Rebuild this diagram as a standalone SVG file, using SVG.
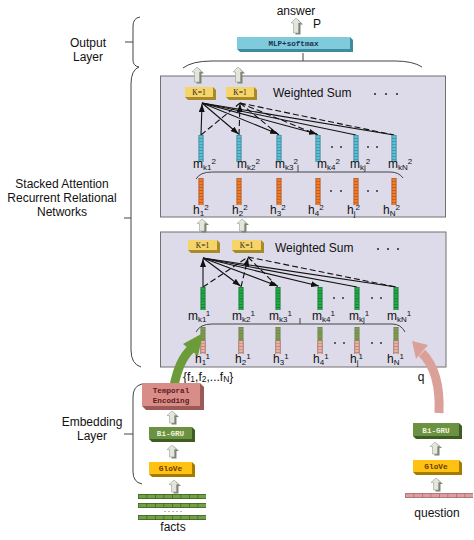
<svg xmlns="http://www.w3.org/2000/svg" xmlns:xlink="http://www.w3.org/1999/xlink" width="474" height="540" viewBox="0 0 474 540">
<style>
.t{font-family:"Liberation Sans",Arial,sans-serif;font-size:12px;fill:#111}
.lbl{font-family:"Liberation Sans",Arial,sans-serif;font-size:12px;fill:#111}
.s{font-size:8px}
.mono{font-family:"Liberation Mono","Courier New",monospace;font-weight:bold}
.panel{fill:#dddbe9;stroke:#707070;stroke-width:1}
.brace{fill:none;stroke:#444;stroke-width:1}
.sl{stroke:#111;stroke-width:1.1;fill:none}
.dl{stroke:#111;stroke-width:1.1;fill:none;stroke-dasharray:6 3}
</style>
<defs>
<marker id="ah" markerUnits="userSpaceOnUse" markerWidth="8" markerHeight="6" refX="8" refY="3" orient="auto">
<path d="M0,0 L8,3 L0,6 z" fill="#111"/>
</marker>
<g id="garrow">
<polygon points="2,1.5 7,6.5 4.5,6.5 4.5,16.5 -0.5,16.5 -0.5,6.5 -3,6.5" fill="#7c8576"/>
<polygon points="0,0 5,5 2.5,5 2.5,15 -2.5,15 -2.5,5 -5,5" fill="#e2e6dc" stroke="#8d9586" stroke-width="0.5"/>
</g>
<g id="garrowS">
<polygon points="2,1.5 7,6 4.5,6 4.5,13.5 -0.5,13.5 -0.5,6 -3,6" fill="#7c8576"/>
<polygon points="0,0 5,4.5 2.5,4.5 2.5,12 -2.5,12 -2.5,4.5 -5,4.5" fill="#e2e6dc" stroke="#8d9586" stroke-width="0.5"/>
</g>
<g id="vm2">
<rect x="-2.5" y="0" width="5" height="27" fill="#2a7b8e"/>
<line x1="0" y1="0.6" x2="0" y2="27" stroke="#5cbfd5" stroke-width="3.6" stroke-dasharray="2.4 0.6"/>
</g>
<g id="vh2">
<rect x="-2.5" y="0" width="5" height="27" fill="#a8460e"/>
<line x1="0" y1="0.6" x2="0" y2="27" stroke="#f07c2a" stroke-width="3.6" stroke-dasharray="2.4 0.6"/>
</g>
<g id="vm1">
<rect x="-2.5" y="0" width="5" height="23" fill="#0d6e26"/>
<line x1="0" y1="0.6" x2="0" y2="23" stroke="#22ad48" stroke-width="3.6" stroke-dasharray="2.3 0.6"/>
</g>
<g id="vh1">
<rect x="-2.5" y="0" width="5" height="27" fill="#6a7a50"/>
<line x1="0" y1="0.6" x2="0" y2="13.5" stroke="#7fa04a" stroke-width="3.6" stroke-dasharray="2.3 0.6"/>
<rect x="-2.5" y="13.5" width="5" height="13.5" fill="#b77a70"/>
<line x1="0" y1="14.1" x2="0" y2="27" stroke="#eab0a4" stroke-width="3.6" stroke-dasharray="2.3 0.6"/>
</g>
</defs>
<rect width="474" height="540" fill="#ffffff"/>

<!-- side labels and braces -->
<g id="label-output">
<text class="t" x="88" y="47" text-anchor="middle">Output</text>
<text class="t" x="88" y="61" text-anchor="middle">Layer</text>
</g>
<g id="label-stacked">
<text class="t" x="62" y="188" text-anchor="middle">Stacked Attention</text>
<text class="t" x="62" y="202" text-anchor="middle">Recurrent Relational</text>
<text class="t" x="62" y="216" text-anchor="middle">Networks</text>
</g>
<g id="label-embedding">
<text class="t" x="92" y="426" text-anchor="middle">Embedding</text>
<text class="t" x="92" y="440" text-anchor="middle">Layer</text>
</g>
<g id="braces">
<path class="brace" d="M140,17 Q133,18 133,26 L133,60 Q133,66 139,67 Q131,70 131,84 L131,350 Q131,364 141,367"/>
<path class="brace" d="M125,42 L133,42 M124,218 L131,218"/>
<path class="brace" d="M142,384 Q133,386 133,397 L133,472 Q133,482 142,484 M124,434 L133,434"/>
<path class="brace" d="M183,68 Q192,61 212,61 L395,61 Q413,61 422,67 M303,53 L303,61"/>
</g>

<!-- output -->
<g id="answer">
<text class="t" x="296" y="15" text-anchor="middle">answer</text>
<text class="t" x="313" y="28">P</text>
<use xlink:href="#garrow" href="#garrow" x="296" y="18"/>
</g>
<g id="mlp">
<polygon points="350,37 353,40 353,52 240,52 237,49" fill="#3f8b9c"/>
<rect x="237" y="37" width="113" height="12" fill="#7fcbdc"/>
<text class="mono" x="293.5" y="46" font-size="7.6" fill="#1d3350" text-anchor="middle">MLP+softmax</text>
</g>

<!-- upper panel -->
<g id="panel2">
<rect class="panel" x="160.5" y="76" width="285" height="141"/>
<use xlink:href="#garrow" href="#garrow" x="197" y="67"/>
<use xlink:href="#garrow" href="#garrow" x="238" y="67"/>
<polygon points="213,87 216,90 216,100 188,100 185,97" fill="#a88a28"/>
<rect x="185" y="87" width="28" height="10" fill="#f6d46a"/>
<text x="199" y="95" font-family="Liberation Serif,serif" font-size="7.5" text-anchor="middle" fill="#222">K=1</text>
<polygon points="254,87 257,90 257,100 229,100 226,97" fill="#a88a28"/>
<rect x="226" y="87" width="28" height="10" fill="#f6d46a"/>
<text x="240" y="95" font-family="Liberation Serif,serif" font-size="7.5" text-anchor="middle" fill="#222">K=1</text>
<text class="t" x="273" y="97">Weighted Sum</text>
<circle cx="375" cy="94" r="1" fill="#222"/><circle cx="386" cy="94" r="1" fill="#222"/><circle cx="397" cy="94" r="1" fill="#222"/>
</g>
<g id="connectors-2">
<line class="sl" x1="201" y1="135" x2="202" y2="104" marker-end="url(#ah)"/>
<line class="sl" x1="202" y1="103" x2="238.5" y2="134" marker-end="url(#ah)"/>
<line class="sl" x1="202" y1="103" x2="278" y2="134" marker-end="url(#ah)"/>
<line class="sl" x1="202" y1="103" x2="317" y2="134" marker-end="url(#ah)"/>
<line class="sl" x1="202" y1="103" x2="356" y2="135"/>
<line class="sl" x1="202" y1="103" x2="394" y2="135"/>
<line class="dl" x1="201" y1="135" x2="240" y2="103"/>
<line class="dl" x1="239" y1="135" x2="240" y2="104" marker-end="url(#ah)"/>
<line class="dl" x1="240" y1="103" x2="279" y2="135"/>
<line class="dl" x1="240" y1="103" x2="318" y2="135"/>
<line class="dl" x1="240" y1="103" x2="394" y2="135"/>
</g>
<g id="vectors-2">
<use xlink:href="#vm2" href="#vm2" x="201" y="135"/>
<use xlink:href="#vm2" href="#vm2" x="239" y="135"/>
<use xlink:href="#vm2" href="#vm2" x="279" y="135"/>
<use xlink:href="#vm2" href="#vm2" x="318" y="135"/>
<use xlink:href="#vm2" href="#vm2" x="356" y="135"/>
<use xlink:href="#vm2" href="#vm2" x="394" y="135"/>
<circle cx="332" cy="147" r="0.9" fill="#222"/><circle cx="341" cy="147" r="0.9" fill="#222"/>
<circle cx="368" cy="147" r="0.9" fill="#222"/><circle cx="377" cy="147" r="0.9" fill="#222"/>
<text class="lbl" y="168"><tspan x="193">m</tspan><tspan class="s" dy="2">k1</tspan><tspan class="s" dy="-6">2</tspan></text>
<text class="lbl" y="168"><tspan x="237">m</tspan><tspan class="s" dy="2">k2</tspan><tspan class="s" dy="-6">2</tspan></text>
<text class="lbl" y="168"><tspan x="275">m</tspan><tspan class="s" dy="2">k3</tspan><tspan class="s" dy="-6">2</tspan></text>
<text class="lbl" y="168"><tspan x="317">m</tspan><tspan class="s" dy="2">k4</tspan><tspan class="s" dy="-6">2</tspan></text>
<text class="lbl" y="168"><tspan x="350">m</tspan><tspan class="s" dy="2">kj</tspan><tspan class="s" dy="-6">2</tspan></text>
<text class="lbl" y="168"><tspan x="388">m</tspan><tspan class="s" dy="2">kN</tspan><tspan class="s" dy="-6">2</tspan></text>
<path class="brace" d="M196,179 Q200,172 212,172 L390,172 Q399,172 403,178 M298,165 L298,172"/>
<use xlink:href="#vh2" href="#vh2" x="201" y="178"/>
<use xlink:href="#vh2" href="#vh2" x="239" y="178"/>
<use xlink:href="#vh2" href="#vh2" x="279" y="178"/>
<use xlink:href="#vh2" href="#vh2" x="318" y="178"/>
<use xlink:href="#vh2" href="#vh2" x="356" y="178"/>
<use xlink:href="#vh2" href="#vh2" x="394" y="178"/>
<circle cx="331" cy="191" r="0.9" fill="#222"/><circle cx="341" cy="191" r="0.9" fill="#222"/>
<circle cx="368" cy="191" r="0.9" fill="#222"/><circle cx="377" cy="191" r="0.9" fill="#222"/>
<text class="lbl" y="214"><tspan x="193">h</tspan><tspan class="s" dy="2">1</tspan><tspan class="s" dy="-6">2</tspan></text>
<text class="lbl" y="214"><tspan x="232">h</tspan><tspan class="s" dy="2">2</tspan><tspan class="s" dy="-6">2</tspan></text>
<text class="lbl" y="214"><tspan x="270">h</tspan><tspan class="s" dy="2">3</tspan><tspan class="s" dy="-6">2</tspan></text>
<text class="lbl" y="214"><tspan x="308">h</tspan><tspan class="s" dy="2">4</tspan><tspan class="s" dy="-6">2</tspan></text>
<text class="lbl" y="214"><tspan x="347">h</tspan><tspan class="s" dy="2">j</tspan><tspan class="s" dy="-6">2</tspan></text>
<text class="lbl" y="214"><tspan x="383">h</tspan><tspan class="s" dy="2">N</tspan><tspan class="s" dy="-6">2</tspan></text>
</g>

<!-- lower panel -->
<g id="panel1">
<rect class="panel" x="160.5" y="232" width="285.5" height="135"/>
<use xlink:href="#garrowS" href="#garrowS" x="202" y="219"/>
<use xlink:href="#garrowS" href="#garrowS" x="242" y="219"/>
<polygon points="217,240 220,243 220,253 191,253 188,250" fill="#a88a28"/>
<rect x="188" y="240" width="29" height="10" fill="#f6d46a"/>
<text x="202.5" y="248" font-family="Liberation Serif,serif" font-size="7.5" text-anchor="middle" fill="#222">K=1</text>
<polygon points="261,240 264,243 264,253 235,253 232,250" fill="#a88a28"/>
<rect x="232" y="240" width="29" height="10" fill="#f6d46a"/>
<text x="246.5" y="248" font-family="Liberation Serif,serif" font-size="7.5" text-anchor="middle" fill="#222">K=1</text>
<text class="t" x="275" y="252">Weighted Sum</text>
<circle cx="378" cy="249" r="1" fill="#222"/><circle cx="388" cy="249" r="1" fill="#222"/><circle cx="398" cy="249" r="1" fill="#222"/>
</g>
<g id="connectors-1">
<line class="sl" x1="203" y1="287" x2="203" y2="259" marker-end="url(#ah)"/>
<line class="sl" x1="203" y1="258" x2="240.5" y2="286" marker-end="url(#ah)"/>
<line class="sl" x1="203" y1="258" x2="277.5" y2="286" marker-end="url(#ah)"/>
<line class="sl" x1="203" y1="258" x2="319" y2="286" marker-end="url(#ah)"/>
<line class="sl" x1="203" y1="258" x2="357" y2="287"/>
<line class="sl" x1="203" y1="258" x2="396" y2="287"/>
<line class="dl" x1="203" y1="287" x2="248" y2="257"/>
<line class="dl" x1="241" y1="287" x2="248" y2="258" marker-end="url(#ah)"/>
<line class="dl" x1="248" y1="257" x2="278" y2="287"/>
<line class="dl" x1="248" y1="257" x2="396" y2="287"/>
</g>
<g id="vectors-1">
<use xlink:href="#vm1" href="#vm1" x="203" y="287"/>
<use xlink:href="#vm1" href="#vm1" x="241" y="287"/>
<use xlink:href="#vm1" href="#vm1" x="278" y="287"/>
<use xlink:href="#vm1" href="#vm1" x="320" y="287"/>
<use xlink:href="#vm1" href="#vm1" x="357" y="287"/>
<use xlink:href="#vm1" href="#vm1" x="396" y="287"/>
<circle cx="334" cy="298" r="0.9" fill="#222"/><circle cx="343" cy="298" r="0.9" fill="#222"/>
<circle cx="372" cy="298" r="0.9" fill="#222"/><circle cx="381" cy="298" r="0.9" fill="#222"/>
<text class="lbl" y="320"><tspan x="188">m</tspan><tspan class="s" dy="2">k1</tspan><tspan class="s" dy="-6">1</tspan></text>
<text class="lbl" y="320"><tspan x="232">m</tspan><tspan class="s" dy="2">k2</tspan><tspan class="s" dy="-6">1</tspan></text>
<text class="lbl" y="320"><tspan x="269">m</tspan><tspan class="s" dy="2">k3</tspan><tspan class="s" dy="-6">1</tspan></text>
<text class="lbl" y="320"><tspan x="312">m</tspan><tspan class="s" dy="2">k4</tspan><tspan class="s" dy="-6">1</tspan></text>
<text class="lbl" y="320"><tspan x="349">m</tspan><tspan class="s" dy="2">kj</tspan><tspan class="s" dy="-6">1</tspan></text>
<text class="lbl" y="320"><tspan x="387">m</tspan><tspan class="s" dy="2">kN</tspan><tspan class="s" dy="-6">1</tspan></text>
<path class="brace" d="M196,332 Q200,324 212,324 L392,324 Q401,324 405,332 M300,318 L300,324"/>
<use xlink:href="#vh1" href="#vh1" x="203" y="327"/>
<use xlink:href="#vh1" href="#vh1" x="241" y="327"/>
<use xlink:href="#vh1" href="#vh1" x="278" y="327"/>
<use xlink:href="#vh1" href="#vh1" x="320" y="327"/>
<use xlink:href="#vh1" href="#vh1" x="357" y="327"/>
<use xlink:href="#vh1" href="#vh1" x="396" y="327"/>
<circle cx="335" cy="343" r="0.9" fill="#222"/><circle cx="344" cy="343" r="0.9" fill="#222"/>
<circle cx="372" cy="343" r="0.9" fill="#222"/><circle cx="381" cy="343" r="0.9" fill="#222"/>
<text class="lbl" y="363"><tspan x="195">h</tspan><tspan class="s" dy="2">1</tspan><tspan class="s" dy="-6">1</tspan></text>
<text class="lbl" y="363"><tspan x="235">h</tspan><tspan class="s" dy="2">2</tspan><tspan class="s" dy="-6">1</tspan></text>
<text class="lbl" y="363"><tspan x="273">h</tspan><tspan class="s" dy="2">3</tspan><tspan class="s" dy="-6">1</tspan></text>
<text class="lbl" y="363"><tspan x="313">h</tspan><tspan class="s" dy="2">4</tspan><tspan class="s" dy="-6">1</tspan></text>
<text class="lbl" y="363"><tspan x="350">h</tspan><tspan class="s" dy="2">j</tspan><tspan class="s" dy="-6">1</tspan></text>
<text class="lbl" y="363"><tspan x="387">h</tspan><tspan class="s" dy="2">N</tspan><tspan class="s" dy="-6">1</tspan></text>
</g>

<!-- input arrows -->
<g id="fact-arrow">
<path d="M174,386 Q179,360 191,349" fill="none" stroke="#6c9b3a" stroke-width="9"/>
<polygon points="203,333 183,344 198,356" fill="#6c9b3a"/>
</g>
<g id="question-arrow">
<path d="M439,413 C440,390 437,368 422,353" fill="none" stroke="#dba198" stroke-width="9"/>
<polygon points="412,341 428,345 416,359" fill="#dba198"/>
</g>
<text class="t" x="183" y="381" font-size="11">{f<tspan font-size="8.5" dy="1">1</tspan><tspan dy="-1">,f</tspan><tspan font-size="8.5" dy="1">2</tspan><tspan dy="-1">,...f</tspan><tspan font-size="8.5" dy="1">N</tspan><tspan dy="-1">}</tspan></text>
<text class="t" x="421" y="381" text-anchor="middle">q</text>

<!-- facts embedding -->
<g id="temporal">
<polygon points="200,383 204,387 204,410 146,410 142,406" fill="#9c5a56"/>
<rect x="142" y="383" width="58" height="23" fill="#d98d89"/>
<text class="mono" x="171" y="393" font-size="7.6" fill="#5a1a1a" text-anchor="middle">Temporal</text>
<text class="mono" x="171" y="403" font-size="7.6" fill="#5a1a1a" text-anchor="middle">Encoding</text>
</g>
<use xlink:href="#garrowS" href="#garrowS" x="172" y="411"/>
<g id="bigru-f">
<polygon points="192,427 195,430 195,442 152,442 149,439" fill="#3e5d22"/>
<rect x="149" y="427" width="43" height="12" fill="#6b9242"/>
<text class="mono" x="170.5" y="436" font-size="7.6" fill="#f2f2dc" text-anchor="middle">Bi-GRU</text>
</g>
<use xlink:href="#garrowS" href="#garrowS" x="172" y="445"/>
<g id="glove-f">
<polygon points="192,462 195,465 195,477 152,477 149,474" fill="#a67c00"/>
<rect x="149" y="462" width="43" height="12" fill="#ffc212"/>
<text class="mono" x="170.5" y="471" font-size="7.8" fill="#6a3a00" text-anchor="middle">GloVe</text>
</g>
<use xlink:href="#garrowS" href="#garrowS" x="174" y="480"/>
<g id="facts">
<rect x="138" y="494" width="68" height="5" fill="#3d6325"/>
<line x1="138.7" y1="496.5" x2="206" y2="496.5" stroke="#73a047" stroke-width="3.6" stroke-dasharray="7.8 0.7"/>
<rect x="138" y="503" width="68" height="5" fill="#3d6325"/>
<line x1="138.7" y1="505.5" x2="206" y2="505.5" stroke="#73a047" stroke-width="3.6" stroke-dasharray="7.8 0.7"/>
<circle cx="165" cy="511.5" r="0.5" fill="#444"/><circle cx="169" cy="511.5" r="0.5" fill="#444"/><circle cx="173" cy="511.5" r="0.5" fill="#444"/><circle cx="177" cy="511.5" r="0.5" fill="#444"/><circle cx="181" cy="511.5" r="0.5" fill="#444"/>
<rect x="138" y="515" width="68" height="5" fill="#3d6325"/>
<line x1="138.7" y1="517.5" x2="206" y2="517.5" stroke="#73a047" stroke-width="3.6" stroke-dasharray="7.8 0.7"/>
<text class="t" x="173" y="531" text-anchor="middle">facts</text>
</g>

<!-- question embedding -->
<g id="bigru-q">
<polygon points="459,423 462,426 462,439 416,439 413,436" fill="#3e5d22"/>
<rect x="413" y="423" width="46" height="13" fill="#6b9242"/>
<text class="mono" x="436" y="432.5" font-size="7.6" fill="#f2f2dc" text-anchor="middle">Bi-GRU</text>
</g>
<use xlink:href="#garrowS" href="#garrowS" x="435" y="442"/>
<g id="glove-q">
<polygon points="459,460 462,463 462,475 416,475 413,472" fill="#a67c00"/>
<rect x="413" y="460" width="46" height="12" fill="#ffc212"/>
<text class="mono" x="436" y="469" font-size="7.8" fill="#6a3a00" text-anchor="middle">GloVe</text>
</g>
<use xlink:href="#garrowS" href="#garrowS" x="436" y="478"/>
<g id="question">
<rect x="405" y="493" width="68" height="5" fill="#a86a6a"/>
<line x1="405.7" y1="495.5" x2="473" y2="495.5" stroke="#dc9ea0" stroke-width="3.6" stroke-dasharray="7.8 0.7"/>
<text class="t" x="437" y="517" text-anchor="middle">question</text>
</g>
</svg>
